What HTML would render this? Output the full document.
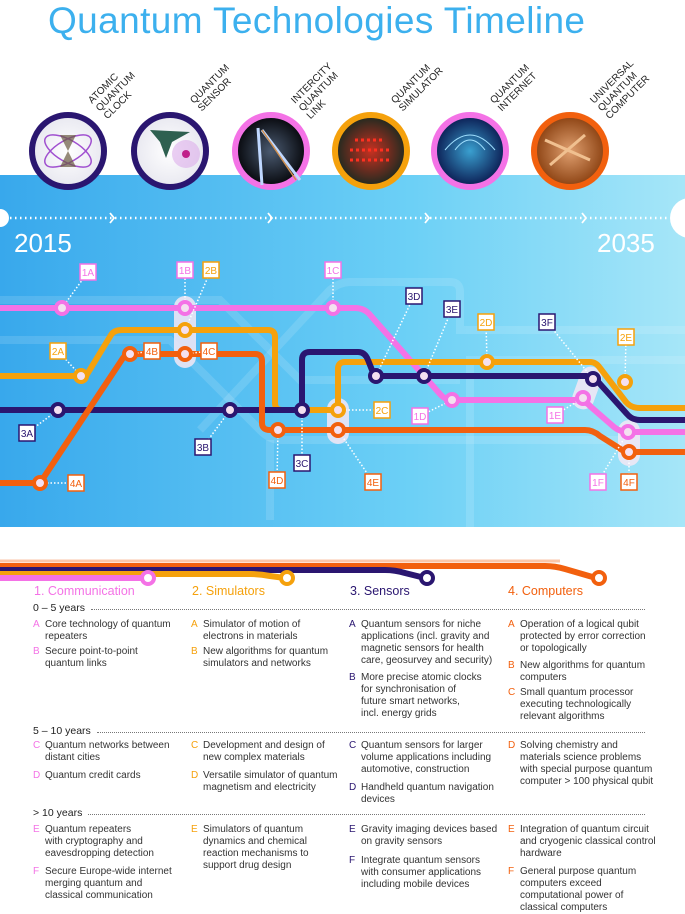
<!DOCTYPE html>
<html><head><meta charset="utf-8">
<style>
body{margin:0;width:685px;height:911px;background:#fff;position:relative;overflow:hidden;font-family:"Liberation Sans",sans-serif}
svg{position:absolute;left:0;top:0}
.t{position:absolute;font-size:10px;line-height:12px;color:#333;white-space:nowrap}
.t b{font-weight:normal;position:absolute;left:-12px}
.h{position:absolute;font-size:12.5px;top:584px}
.yr{position:absolute;left:33px;font-size:10.5px;color:#222;width:612px;display:flex;align-items:center}
.yr span{flex:1;border-bottom:1.5px dotted #777;margin-left:6px;height:0;margin-top:2px}
</style></head><body>
<svg width="685" height="911" viewBox="0 0 685 911" id="chart">
<defs>
<linearGradient id="bg" x1="0" x2="1" y1="0" y2="0"><stop offset="0" stop-color="#38a8ec"/><stop offset="0.6" stop-color="#6cd0f6"/><stop offset="1" stop-color="#a6e6f8"/></linearGradient>
<radialGradient id="g1"><stop offset="0" stop-color="#fff"/><stop offset="1" stop-color="#e8e8f0"/></radialGradient>
<radialGradient id="g3"><stop offset="0" stop-color="#4a5a70"/><stop offset="1" stop-color="#05060a"/></radialGradient>
<radialGradient id="g4"><stop offset="0" stop-color="#c83020"/><stop offset="1" stop-color="#1a2a20"/></radialGradient>
<radialGradient id="g5"><stop offset="0" stop-color="#3aa0d0"/><stop offset="1" stop-color="#0a1a50"/></radialGradient>
<radialGradient id="g6"><stop offset="0" stop-color="#e0a070"/><stop offset="1" stop-color="#8a4010"/></radialGradient>
</defs>
<text x="48" y="33" font-size="37" fill="#3cb0ee" textLength="537">Quantum Technologies Timeline</text>
<rect x="0" y="175" width="685" height="352" fill="url(#bg)"/>
<g fill="none" stroke="#ffffff" stroke-opacity="0.13" stroke-width="8">
<path d="M0,300 H220 L300,380 H460"/><path d="M0,340 H170 L260,430 Q270,440 280,440 H640"/>
<path d="M200,430 L330,290 Q340,282 350,282 H450 Q460,282 460,292 V330 H685"/>
<path d="M270,520 V440 M470,527 V360 H685"/>
</g>
<g>
<line x1="10" y1="218" x2="670" y2="218" stroke="#fff" stroke-width="2.5" stroke-dasharray="1.5 3.5"/>
<path d="M110,213 l4,5 l-4,5 M268,213 l4,5 l-4,5 M425,213 l4,5 l-4,5 M582,213 l4,5 l-4,5" stroke="#fff" stroke-width="1.8" fill="none"/>
<circle cx="0" cy="218" r="9" fill="#fff"/><circle cx="690" cy="218" r="20" fill="#fff"/>
<text x="14" y="252" font-size="26" fill="#fff">2015</text><text x="597" y="252" font-size="26" fill="#fff">2035</text>
</g>
<g id="icons"></g>
<g fill="none">
<ellipse cx="68" cy="151" rx="26" ry="11" stroke="#a050d0" stroke-width="1.5" transform="rotate(30 68 151)"/>
<ellipse cx="68" cy="151" rx="26" ry="11" stroke="#a050d0" stroke-width="1.5" transform="rotate(-30 68 151)"/>
<path d="M60,135 H76 L68,151 L76,167 H60 L68,151 Z" fill="#6a5a40" fill-opacity="0.7"/>
<path d="M150,130 L190,132 L172,142 L166,158 L160,142 Z" fill="#2e6050"/>
<circle cx="186" cy="154" r="14" fill="#d8a0e8" fill-opacity="0.5"/><circle cx="186" cy="154" r="4" fill="#c0208a"/>
<path d="M258,128 L262,185 M262,130 L300,180" stroke="#c0d8ff" stroke-width="3"/><path d="M262,130 L296,180" stroke="#d09050" stroke-width="1.5"/>
<path d="M350,150 h40 M350,160 h40 M355,140 h30" stroke="#ff3020" stroke-width="3" stroke-dasharray="3 3"/>
<path d="M445,150 Q470,120 495,150 M455,150 Q470,130 485,150" stroke="#a0e0ff" stroke-width="1"/>
<path d="M545,140 L590,160 M550,165 L585,135" stroke="#f0c090" stroke-width="3"/>
</g>
<g fill="#f4e8f4" fill-opacity="0.85">
<rect x="174" y="296" width="22" height="72" rx="11"/>
<rect x="327" y="398" width="22" height="46" rx="11"/>
<rect x="576" y="366" width="22" height="44" rx="11" transform="rotate(20 587 388)"/>
<rect x="618" y="420" width="22" height="46" rx="11"/>
</g>
<g fill="none" stroke-width="6" stroke-linejoin="round" stroke-linecap="round">
<path stroke="#f472e6" d="M0,308 H355 Q365,308 371,316 L440,394 Q445,400 452,400 H575 Q585,400 591,407 L614,427 Q620,432 628,432 H690"/>
<path stroke="#f5a10c" d="M0,376 H86 L111,335 Q114,330 122,330 H268 Q275,330 275,337 V403 Q275,410 282,410 H338 V369 Q338,362 345,362 H590 Q596,362 600,368 L626,402 Q631,408 640,408 H690"/>
<path stroke="#2a1670" d="M0,410 H302 V360 Q302,352 310,352 H358 Q365,352 368,360 L372,370 Q375,376 382,376 H588 Q595,377 600,384 L627,414 Q632,420 640,420 H690"/>
<path stroke="#f2600e" d="M0,483 H40 L123,358 Q126,354 133,354 H255 Q262,354 262,361 V423 Q262,430 270,430 H585 Q593,430 600,436 L619,448 Q624,452 632,452 H690"/>
</g>
<g id="stations"></g>
<g fill="none" stroke-width="6">
<path d="M0,561 H560" stroke="#fbc6a8" stroke-width="3"/>
<path stroke="#f2600e" d="M0,566 H545 Q555,566 565,569 L596,578"/>
<path stroke="#2a1670" d="M0,570 H385 Q395,570 405,573 L425,578"/>
<path stroke="#f5a10c" d="M0,574 H250 Q260,574 270,576 L285,578"/>
<path stroke="#f472e6" d="M0,578 H148"/>
</g>
<g fill="#fff" stroke-width="4">
<circle cx="148" cy="578" r="6" stroke="#f472e6"/>
<circle cx="287" cy="578" r="6" stroke="#f5a10c"/>
<circle cx="427" cy="578" r="6" stroke="#2a1670"/>
<circle cx="599" cy="578" r="6" stroke="#f2600e"/>
</g>
</svg>
<script>
const iconNames=[["ATOMIC","QUANTUM","CLOCK"],["QUANTUM","SENSOR"],["INTERCITY","QUANTUM","LINK"],["QUANTUM","SIMULATOR"],["QUANTUM","INTERNET"],["UNIVERSAL","QUANTUM","COMPUTER"]];
const iconX=[68,170,271,371,470,570];
const iconBorder=["#2a1670","#2a1670","#f472e6","#f5a10c","#f472e6","#f2600e"];
const iconFill=["url(#g1)","url(#g1)","url(#g3)","url(#g4)","url(#g5)","url(#g6)"];
const stLine=["1A","1B","1C","1D","1E","1F","2A","2B","2C","2D","2E","3A","3B","3C","3D","3E","3F","4A","4B","4C","4D","4E","4F"];
const stPos=[[62,308],[185,308],[333,308],[452,400],[583,398],[628,432],[81,376],[185,330],[338,410],[487,362],[625,382],[58,410],[230,410],[302,410],[376,376],[424,376],[593,379],[40,483],[130,354],[185,354],[278,430],[338,430],[629,452]];
const lblPos=[[88,272],[185,270],[333,270],[420,416],[555,415],[598,482],[58,351],[211,270],[382,410],[486,322],[626,337],[27,433],[203,447],[302,463],[414,296],[452,309],[547,322],[76,483],[152,351],[209,351],[277,480],[373,482],[629,482]];
const col={"1":"#f472e6","2":"#f5a10c","3":"#2a1670","4":"#f2600e"};
const NS="http://www.w3.org/2000/svg";
function mk(t,a,p){const e=document.createElementNS(NS,t);for(const k in a)e.setAttribute(k,a[k]);p.appendChild(e);return e;}
const ic=document.getElementById('icons');
iconX.forEach((x,i)=>{
 const g=mk('g',{},ic);
 
 
 mk('circle',{cx:x,cy:151,r:36,fill:iconFill[i],stroke:iconBorder[i],'stroke-width':6},g);
 const tg=mk('g',{transform:`translate(${x+24},${104}) rotate(-45)`},g);
 iconNames[i].forEach((w,j)=>{const t=mk('text',{x:0,y:j*11,'font-size':10,fill:'#222'},tg);t.textContent=w;});
});
const st=document.getElementById('stations');
stLine.forEach((s,i)=>{
 const c=col[s[0]];const [x,y]=stPos[i];const [lx,ly]=lblPos[i];
 const g=mk('g',{},st);
 
 
 mk('line',{x1:x,y1:y,x2:lx,y2:ly,stroke:'#fff','stroke-width':1.5,'stroke-dasharray':'1.5 2'},g);
 mk('circle',{cx:x,cy:y,r:6,fill:'#f4e0f0',stroke:c,'stroke-width':4},g);
 mk('rect',{x:lx-8,y:ly-8,width:16,height:16,fill:'#fff',stroke:c,'stroke-width':1.5},g);
 const t=mk('text',{x:lx,y:ly+4,'font-size':10,fill:c,'text-anchor':'middle'},g);t.textContent=s;
});
</script>
<div class="h" style="left:34px;color:#f472e6">1. Communication</div>
<div class="h" style="left:192px;color:#f5a10c">2. Simulators</div>
<div class="h" style="left:350px;color:#2a1670">3. Sensors</div>
<div class="h" style="left:508px;color:#f2600e">4. Computers</div>
<div class="yr" style="top:602px">0 – 5 years<span></span></div>
<div class="yr" style="top:725px">5 – 10 years<span></span></div>
<div class="yr" style="top:807px">&gt; 10 years<span></span></div>

<div class="t" style="left:45px;top:619px;color:#333"><b style="color:#f472e6">A</b>Core technology of quantum<br>repeaters</div>
<div class="t" style="left:45px;top:646px"><b style="color:#f472e6">B</b>Secure point-to-point<br>quantum links</div>
<div class="t" style="left:45px;top:740px"><b style="color:#f472e6">C</b>Quantum networks between<br>distant cities</div>
<div class="t" style="left:45px;top:770px"><b style="color:#f472e6">D</b>Quantum credit cards</div>
<div class="t" style="left:45px;top:824px"><b style="color:#f472e6">E</b>Quantum repeaters<br>with cryptography and<br>eavesdropping detection</div>
<div class="t" style="left:45px;top:866px"><b style="color:#f472e6">F</b>Secure Europe-wide internet<br>merging quantum and<br>classical communication</div>

<div class="t" style="left:203px;top:619px"><b style="color:#f5a10c">A</b>Simulator of motion of<br>electrons in materials</div>
<div class="t" style="left:203px;top:646px"><b style="color:#f5a10c">B</b>New algorithms for quantum<br>simulators and networks</div>
<div class="t" style="left:203px;top:740px"><b style="color:#f5a10c">C</b>Development and design of<br>new complex materials</div>
<div class="t" style="left:203px;top:770px"><b style="color:#f5a10c">D</b>Versatile simulator of quantum<br>magnetism and electricity</div>
<div class="t" style="left:203px;top:824px"><b style="color:#f5a10c">E</b>Simulators of quantum<br>dynamics and chemical<br>reaction mechanisms to<br>support drug design</div>

<div class="t" style="left:361px;top:619px"><b style="color:#2a1670">A</b>Quantum sensors for niche<br>applications (incl. gravity and<br>magnetic sensors for health<br>care, geosurvey and security)</div>
<div class="t" style="left:361px;top:672px"><b style="color:#2a1670">B</b>More precise atomic clocks<br>for synchronisation of<br>future smart networks,<br>incl. energy grids</div>
<div class="t" style="left:361px;top:740px"><b style="color:#2a1670">C</b>Quantum sensors for larger<br>volume applications including<br>automotive, construction</div>
<div class="t" style="left:361px;top:782px"><b style="color:#2a1670">D</b>Handheld quantum navigation<br>devices</div>
<div class="t" style="left:361px;top:824px"><b style="color:#2a1670">E</b>Gravity imaging devices based<br>on gravity sensors</div>
<div class="t" style="left:361px;top:855px"><b style="color:#2a1670">F</b>Integrate quantum sensors<br>with consumer applications<br>including mobile devices</div>

<div class="t" style="left:520px;top:619px"><b style="color:#f2600e">A</b>Operation of a logical qubit<br>protected by error correction<br>or topologically</div>
<div class="t" style="left:520px;top:660px"><b style="color:#f2600e">B</b>New algorithms for quantum<br>computers</div>
<div class="t" style="left:520px;top:687px"><b style="color:#f2600e">C</b>Small quantum processor<br>executing technologically<br>relevant algorithms</div>
<div class="t" style="left:520px;top:740px"><b style="color:#f2600e">D</b>Solving chemistry and<br>materials science problems<br>with special purpose quantum<br>computer &gt; 100 physical qubit</div>
<div class="t" style="left:520px;top:824px"><b style="color:#f2600e">E</b>Integration of quantum circuit<br>and cryogenic classical control<br>hardware</div>
<div class="t" style="left:520px;top:866px"><b style="color:#f2600e">F</b>General purpose quantum<br>computers exceed<br>computational power of<br>classical computers</div>
</body></html>
